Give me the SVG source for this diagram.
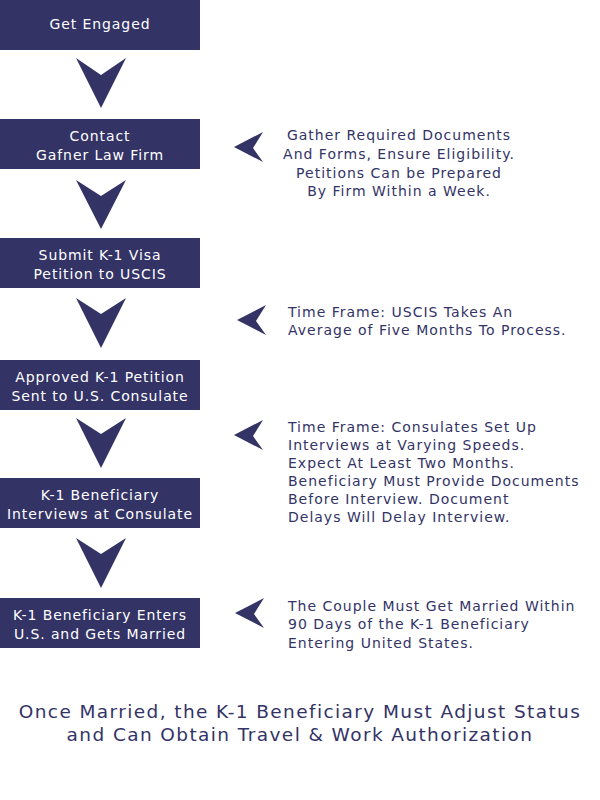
<svg xmlns="http://www.w3.org/2000/svg" width="600" height="800" viewBox="0 0 600 800">
<style>
.b{fill:#333366}
.bt{fill:#fff;font-family:"DejaVu Sans",sans-serif;font-size:14px;letter-spacing:0.9px;text-anchor:middle}
.t{fill:#333366;font-family:"DejaVu Sans",sans-serif;font-size:14px;letter-spacing:1px}
.f{fill:#333366;font-family:"DejaVu Sans",sans-serif;font-size:18.5px;letter-spacing:1.4px;text-anchor:middle}
</style>
<rect width="600" height="800" fill="#fff"/>
<g id="n1"><rect class="b" x="0" y="0" width="200" height="50"/><text class="bt" x="100" y="29">Get Engaged</text></g>
<g id="n2"><rect class="b" x="0" y="119" width="200" height="50"/><text class="bt" x="100" y="141">Contact</text><text class="bt" x="100" y="160">Gafner Law Firm</text></g>
<g id="n3"><rect class="b" x="0" y="238" width="200" height="50"/><text class="bt" x="100" y="260">Submit K-1 Visa</text><text class="bt" x="100" y="279">Petition to USCIS</text></g>
<g id="n4"><rect class="b" x="0" y="360" width="200" height="50"/><text class="bt" x="100" y="382">Approved K-1 Petition</text><text class="bt" x="100" y="401">Sent to U.S. Consulate</text></g>
<g id="n5"><rect class="b" x="0" y="478" width="200" height="50"/><text class="bt" x="100" y="500">K-1 Beneficiary</text><text class="bt" x="100" y="519">Interviews at Consulate</text></g>
<g id="n6"><rect class="b" x="0" y="598" width="200" height="50"/><text class="bt" x="100" y="620">K-1 Beneficiary Enters</text><text class="bt" x="100" y="639">U.S. and Gets Married</text></g>
<g id="connectors" class="b">
<path d="M76 58 L101 75 L126 58 L101 108Z"/>
<path d="M76 180 L101 196 L126 180 L101 229Z"/>
<path d="M76 298 L101 314 L126 298 L101 348Z"/>
<path d="M76 418 L101 434 L126 418 L101 468Z"/>
<path d="M76 538 L101 554 L126 538 L101 588Z"/>
<path d="M234 147 L263 132 L253 148 L263 162Z"/>
<path d="M237 320 L266 305 L256 321 L266 335Z"/>
<path d="M234 435 L263 420 L253 436 L263 450Z"/>
<path d="M235 613 L264 598 L254 614 L264 628Z"/>
</g>
<g id="notes">
<text class="t" text-anchor="middle" x="399" y="140">Gather Required Documents</text>
<text class="t" text-anchor="middle" x="399" y="159">And Forms, Ensure Eligibility.</text>
<text class="t" text-anchor="middle" x="399" y="178">Petitions Can be Prepared</text>
<text class="t" text-anchor="middle" x="399" y="196">By Firm Within a Week.</text>
<text class="t" x="288" y="317">Time Frame: USCIS Takes An</text>
<text class="t" x="288" y="335">Average of Five Months To Process.</text>
<text class="t" x="288" y="432">Time Frame: Consulates Set Up</text>
<text class="t" x="288" y="450">Interviews at Varying Speeds.</text>
<text class="t" x="288" y="468">Expect At Least Two Months.</text>
<text class="t" x="288" y="486">Beneficiary Must Provide Documents</text>
<text class="t" x="288" y="504">Before Interview.  Document</text>
<text class="t" x="288" y="522">Delays Will Delay Interview.</text>
<text class="t" x="288" y="611">The Couple Must Get Married Within</text>
<text class="t" x="288" y="629">90 Days of the K-1 Beneficiary</text>
<text class="t" x="288" y="648">Entering United States.</text>
</g>
<text class="f" x="300" y="718">Once Married, the K-1 Beneficiary Must Adjust Status</text>
<text class="f" x="300" y="741">and Can Obtain Travel &amp; Work Authorization</text>
</svg>
